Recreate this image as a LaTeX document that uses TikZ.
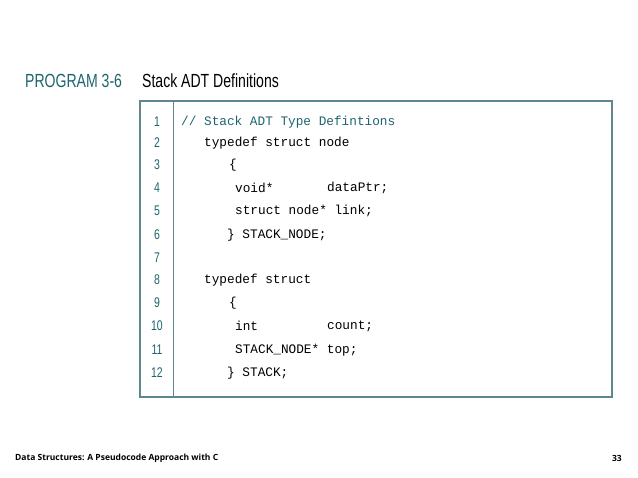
\documentclass[tikz,border=0pt]{standalone}
\usepackage{fontspec}
\setmainfont{Liberation Sans}
\setmonofont{Liberation Mono}
\newfontfamily\footfont{Open Sans}
\definecolor{teal1}{RGB}{30,100,110}
\definecolor{boxc}{RGB}{95,135,145}
\begin{document}
\begin{tikzpicture}[x=1pt,y=-1pt,
  code/.style={anchor=west,inner sep=0pt,font=\ttfamily\fontsize{13}{13}\selectfont,xscale=0.98},
  num/.style={anchor=center,inner sep=0pt,font=\fontsize{14}{14}\selectfont,text=teal1,xscale=0.75}]
\useasboundingbox (0,0) rectangle (638,478);
\node[anchor=base west,inner sep=0pt,text=teal1,font=\fontsize{19}{19}\selectfont,xscale=0.74] (t1) at (25,88) {PROGRAM 3-6};
\node[anchor=base west,inner sep=0pt,font=\fontsize{19}{19}\selectfont,xscale=0.74] (t2) at (142,88) {Stack ADT Definitions};
\draw[boxc,line width=1.2pt] (140,101) rectangle (612,397);
\draw[boxc,line width=1pt] (173,101) -- (173,397);
\foreach \n/\y in {1/122,2/143,3/165,4/188,5/211,6/235,7/258,8/280,9/303,10/326,11/350,12/373}
  \node[num] (n\n) at (157,\y) {\n};
\node[code,text=teal1] (c1) at (181,122) {// Stack ADT Type Defintions};
\node[code] (c2) at (204,143) {typedef struct node};
\node[code] (c3) at (229,165) {\{};
\node[code] (c4a) at (235,188) {void*};
\node[code] (c4b) at (327,188) {dataPtr;};
\node[code] (c5) at (235,211) {struct node* link;};
\node[code] (c6) at (227,235) {\} STACK\_NODE;};
\node[code] (c8) at (204,280) {typedef struct};
\node[code] (c9) at (229,303) {\{};
\node[code] (c10a) at (235,326) {int};
\node[code] (c10b) at (327,326) {count;};
\node[code] (c11) at (235,350) {STACK\_NODE* top;};
\node[code] (c12) at (227,373) {\} STACK;};
\node[anchor=west,inner sep=0pt,font=\footfont\bfseries\fontsize{8.5}{9}\selectfont] (f1) at (15,458) {Data Structures: A Pseudocode Approach with C};
\node[anchor=east,inner sep=0pt,font=\footfont\bfseries\fontsize{8.5}{9}\selectfont] (f2) at (622,458) {33};
\end{tikzpicture}
\end{document}
